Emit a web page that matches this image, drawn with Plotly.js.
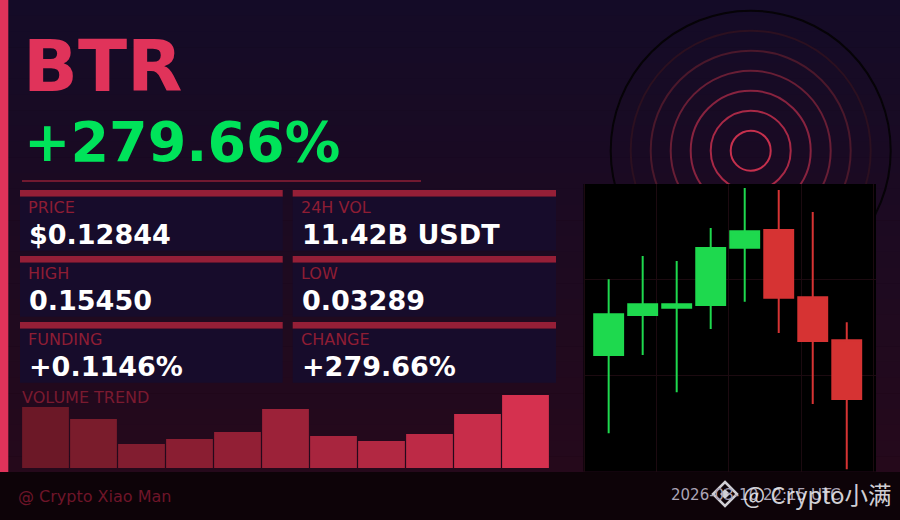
<!DOCTYPE html>
<html>
<head>
<meta charset="utf-8">
<script src="https://cdn.plot.ly/plotly-3.0.1.min.js"></script>
<style>
  html, body { margin: 0; padding: 0; background: #0d0308; }
  #chart { width: 900px; height: 520px; }
</style>
</head>
<body>
<div id="chart"></div>
<script>
// ---------- DATA ----------
const symbol = 'BTR';
const changeText = '+279.66%';
const cardLabels = ['PRICE', '24H VOL', 'HIGH', 'LOW', 'FUNDING', 'CHANGE'];
const cardValues = ['$0.12844', '11.42B USDT', '0.15450', '0.03289', '+0.1146%', '+279.66%'];
const volumeLabel = 'VOLUME TREND';
const volumeIdx = [0, 1, 2, 3, 4, 5, 6, 7, 8, 9, 10];
const volumes = [61, 49, 24, 29, 36, 59, 32, 27, 34, 54, 73];
const candleIdx = [0, 1, 2, 3, 4, 5, 6, 7];
const candleOpen  = [0.0608, 0.0817, 0.0854, 0.0869, 0.1167, 0.1260, 0.0909, 0.0685];
const candleHigh  = [0.1003, 0.1124, 0.1098, 0.1270, 0.1479, 0.1469, 0.1354, 0.0779];
const candleLow   = [0.0200, 0.0608, 0.0414, 0.0744, 0.0885, 0.0723, 0.0352, 0.0012];
const candleClose = [0.0821, 0.0873, 0.0873, 0.1166, 0.1254, 0.0906, 0.0681, 0.0378];
const footerLeft = '@ Crypto Xiao Man';
const footerDate = '2026-03-10 22:15 UTC';
const watermark = '@ Crypto小满';

// ---------- HELPERS ----------
const W = 900, H = 520;
const px = x => x / W;
const py = y => 1 - y / H;
function rect(x0, y0, x1, y1, color) {
  return {type: 'rect', xref: 'paper', yref: 'paper', layer: 'below',
    x0: px(x0), x1: px(x1), y0: py(y1), y1: py(y0),
    fillcolor: color, line: {width: 0}};
}
function hex(c) { return [parseInt(c.slice(1,3),16), parseInt(c.slice(3,5),16), parseInt(c.slice(5,7),16)]; }
function mix(a, b, t) {
  const A = hex(a), B = hex(b);
  return 'rgb(' + A.map((v, i) => Math.round(v + (B[i] - v) * t)).join(',') + ')';
}
const FONT = 'DejaVu Sans, Verdana, sans-serif';
function ann(text, x, y, size, color, bold, xanchor, family) {
  return {text: bold ? '<b>' + text + '</b>' : text, xref: 'paper', yref: 'paper',
    x: px(x), y: py(y), xanchor: xanchor || 'left', yanchor: 'middle',
    showarrow: false, borderpad: 0,
    font: {family: family || FONT, size: size, color: color}};
}

// ---------- SHAPES ----------
const shapes = [];
const N = 30;
for (let i = 0; i < N; i++) {
  const y0 = i * 472 / N, y1 = (i + 1) * 472 / N + 0.5;
  shapes.push(rect(0, y0, 900, y1, mix('#140b27', '#25091b', (i + 0.5) / N)));
}
shapes.push(rect(0, 472, 900, 520, '#0d0308'));
shapes.push(rect(0, 0, 8.3, 472, '#e0335a'));

// concentric rings
const ringR = [140, 120, 100, 80, 60, 40, 20];
const ringC = ['#060307', '#2c1020', '#4a182b', '#681e35', '#88233f', '#a82946', '#c6304d'];
const cx = 750.7, cy = 150.7;
ringR.forEach((r, i) => {
  shapes.push({type: 'circle', xref: 'paper', yref: 'paper', layer: 'below',
    x0: px(cx - r), x1: px(cx + r), y0: py(cy + r), y1: py(cy - r),
    line: {color: ringC[i], width: 2}, fillcolor: 'rgba(0,0,0,0)'});
});

// candle panel
shapes.push(rect(583.5, 184, 876, 471.5, '#000000'));

// divider
shapes.push({type: 'line', xref: 'paper', yref: 'paper', layer: 'below',
  x0: px(22), x1: px(421), y0: py(181), y1: py(181),
  line: {color: '#8f1f36', width: 1.6}});

// cards
const colX = [[20, 282.7], [292.7, 556]];
const rowY = [190, 256, 322];
const annotations = [];
cardLabels.forEach((lab, i) => {
  const c = i % 2, r = Math.floor(i / 2);
  const [xa, xb] = colX[c];
  const y = rowY[r];
  shapes.push(rect(xa, y, xb, y + 6.7, '#951f37'));
  shapes.push(rect(xa, y + 6.7, xb, y + 60.7, '#170c2b'));
  annotations.push(ann(lab, xa + 7, y + 17.5, 16, '#8e1d34', false));
  annotations.push(ann(cardValues[i], xa + 8, y + 44.5, 27, '#ffffff', true));
});

// headline texts
annotations.push(ann(symbol, 22, 66, 72, '#e0335a', true));
annotations.push(ann(changeText, 23, 142, 55.5, '#00e35a', true));
annotations.push(ann(volumeLabel, 21, 397.5, 16, '#7a1a30', false));
annotations.push(ann(footerLeft, 17, 496, 16, '#6e1529', false));
annotations.push(ann(footerDate, 670, 495, 15, '#aba4b6', false, 'left'));
annotations.push(ann(watermark, 892, 494, 23.5, 'rgba(235,235,240,0.9)', false, 'right',
  'Noto Sans CJK SC, DejaVu Sans, sans-serif'));

// watermark logo (diamond)
const lx = 725, ly = 494;
shapes.push({type: 'path', xref: 'paper', yref: 'paper', layer: 'above',
  path: `M ${px(lx)} ${py(ly - 12)} L ${px(lx + 12)} ${py(ly)} L ${px(lx)} ${py(ly + 12)} L ${px(lx - 12)} ${py(ly)} Z`,
  line: {color: 'rgba(230,230,235,0.9)', width: 2.5}, fillcolor: 'rgba(0,0,0,0)'});
shapes.push({type: 'path', xref: 'paper', yref: 'paper', layer: 'above',
  path: `M ${px(lx)} ${py(ly - 5)} L ${px(lx + 5)} ${py(ly)} L ${px(lx)} ${py(ly + 5)} L ${px(lx - 5)} ${py(ly)} Z`,
  line: {width: 0}, fillcolor: 'rgba(230,230,235,0.9)'});

// ---------- TRACES ----------
const volColors = ['#6c1827', '#7a1c2c', '#821d30', '#8a1e32', '#921f35', '#9c2239',
                   '#a8253e', '#b22842', '#bd2a46', '#c82d4a', '#d5314f'];
const volTrace = {
  type: 'bar', x: volumeIdx, y: volumes, xaxis: 'x', yaxis: 'y',
  marker: {color: volColors, line: {width: 0}}, hoverinfo: 'skip'
};
const candleTrace = {
  type: 'candlestick', x: candleIdx, open: candleOpen, high: candleHigh,
  low: candleLow, close: candleClose, xaxis: 'x2', yaxis: 'y2',
  increasing: {line: {color: '#1ed94e', width: 2}, fillcolor: '#1ed94e'},
  decreasing: {line: {color: '#d63333', width: 2}, fillcolor: '#d63333'},
  whiskerwidth: 0, hoverinfo: 'skip'
};

const layout = {
  width: W, height: H,
  margin: {l: 0, r: 0, t: 0, b: 0, pad: 0},
  paper_bgcolor: '#0d0308', plot_bgcolor: 'rgba(0,0,0,0)',
  showlegend: false, bargap: 0.025, boxgap: 0.15, boxgroupgap: 0,
  xaxis: {domain: [px(21.5), px(549.5)], range: [-0.5, 10.5], visible: false, fixedrange: true},
  yaxis: {domain: [py(468), py(395)], range: [0, 73], visible: false, fixedrange: true},
  xaxis2: {domain: [px(583.5), px(876)], range: [-0.74, 7.86], anchor: 'y2',
    showticklabels: false, ticks: '', zeroline: false, showline: false,
    showgrid: true, gridcolor: '#1c0a10', gridwidth: 1, tick0: 1.42, dtick: 2.1176,
    rangeslider: {visible: false}, fixedrange: true},
  yaxis2: {domain: [py(471.5), py(184)], range: [0, 0.15], anchor: 'x2',
    showticklabels: false, ticks: '', zeroline: false, showline: false,
    showgrid: true, gridcolor: '#1c0a10', gridwidth: 1, dtick: 0.05, fixedrange: true},
  shapes: shapes,
  annotations: annotations
};

Plotly.newPlot('chart', [volTrace, candleTrace], layout, {staticPlot: true, displayModeBar: false});
</script>
</body>
</html>
